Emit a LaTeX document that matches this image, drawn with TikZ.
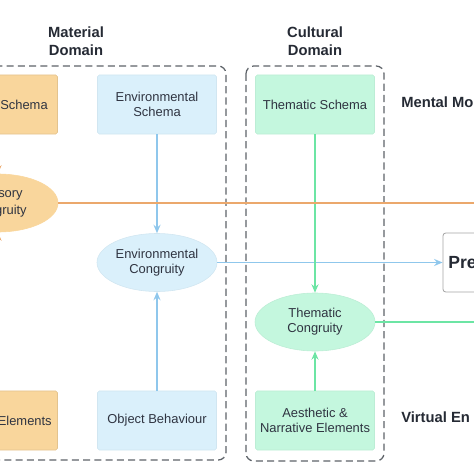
\documentclass[tikz,border=0pt]{standalone}
\usepackage{fontspec}
\setmainfont{Liberation Sans}
\usepackage{tikz}
\usetikzlibrary{arrows.meta,shapes.geometric}

\definecolor{sensfill}{HTML}{F9D69C}
\definecolor{sensline}{HTML}{EBA86C}
\definecolor{envfill}{HTML}{DAF0FB}
\definecolor{envline}{HTML}{8FC7EC}
\definecolor{themfill}{HTML}{C4F7DE}
\definecolor{themline}{HTML}{6CE5A4}
\definecolor{domline}{HTML}{5E6369}
\definecolor{ink}{HTML}{2F3441}

\begin{document}
\begin{tikzpicture}[x=0.025cm, y=-0.025cm,
	every node/.style={text=ink, font=\fontsize{9.2}{10.7}\selectfont},
	blok/.style={rectangle, rounded corners=1.2pt, minimum width=2.975cm, minimum height=1.475cm, align=center, inner sep=0pt},
	kongr/.style={ellipse, minimum width=3cm, minimum height=1.45cm, align=center, inner sep=0pt},
	sensblok/.style={blok, fill=sensfill, draw=sensfill!85!black!60!sensfill},
	envblok/.style={blok, fill=envfill, draw=envfill!90!black!40!envfill},
	themblok/.style={blok, fill=themfill, draw=themfill!90!black!40!themfill},
	domena/.style={draw=domline, line width=0.9pt, dash pattern=on 5pt off 3pt, rounded corners=5.5pt},
	naslov/.style={font=\fontsize{10.5}{12.8}\selectfont\bfseries, text=ink!80!black, align=center},
	vez/.style={line width=1.3pt, -{Stealth[length=6pt, width=5pt]}}]
	\useasboundingbox (0,0) rectangle (474,474);
	\clip (0,0) rectangle (474,474);

	% domeni
	\draw[domena] (-74,66) rectangle (226,460);
	\draw[domena] (246,66) rectangle (384,461);
	\node[naslov] (matdom) at (76,41) {Material\\Domain};
	\node[naslov] (kuldom) at (315,41) {Cultural\\Domain};

	% senzorni stolpec
	\node[sensblok] (sensschema) at (-2,104.5) {};
	\node[inner sep=0pt, anchor=east] (sensschematxt) at (48,104.5) {Schema};
	\node[kongr, fill=sensfill, draw=sensfill] (senscong) at (-2,203) {};
	\node[inner sep=0pt, anchor=east] (senscongtxt1) at (23,195) {sory};
	\node[inner sep=0pt, anchor=east] (senscongtxt2) at (27,211) {gruity};
	\node[sensblok] (senselem) at (-2,420.5) {};
	\node[inner sep=0pt, anchor=east] (senselemtxt) at (52,420.5) {Elements};

	% materialni stolpec
	\node[envblok] (envschema) at (157,104.5) {Environmental\\Schema};
	\node[kongr, fill=envfill, draw=envfill!90!black!40!envfill] (envcong) at (157,262.5) {Environmental\\Congruity};
	\node[envblok] (objbeh) at (157,420.5) {Object Behaviour};

	% kulturni stolpec
	\node[themblok] (themschema) at (315,104.5) {Thematic Schema};
	\node[kongr, fill=themfill, draw=themfill!90!black!40!themfill] (themcong) at (315,322) {Thematic\\Congruity};
	\node[themblok] (aesth) at (315,420.5) {Aesthetic \&\\Narrative Elements};

	% desno
	\node[naslov, anchor=west, inner sep=0pt] (mental) at (401,102) {Mental Mo};
	\node[naslov, anchor=west, inner sep=0pt] (virtual) at (401,417.5) {Virtual En};
	\node[rectangle, rounded corners=2pt, draw=gray!70, fill=white, line width=0.6pt, minimum width=2.5cm, minimum height=1.475cm] (pres) at (493,262.5) {};
	\node[anchor=west, inner sep=0pt, font=\fontsize{12.5}{14}\selectfont\bfseries, text=ink!80!black] (prestxt) at (448,263) {Pre};
	\coordinate (desno1) at (480,203);
	\coordinate (desno2) at (480,322);

	% povezave
	\draw[vez, envline] (envschema) -- (envcong);
	\draw[vez, envline] (objbeh) -- (envcong);
	\draw[vez, envline] (envcong) -- (pres);
	\draw[vez, themline] (themschema) -- (themcong);
	\draw[vez, themline] (aesth) -- (themcong);
	\draw[line width=1.3pt, themline] (themcong) -- (desno2);
	\draw[vez, sensline] (sensschema) -- (senscong);
	\draw[vez, sensline] (senselem) -- (senscong);
	\draw[line width=1.3pt, sensline] (senscong) -- (desno1);
\end{tikzpicture}
\end{document}
